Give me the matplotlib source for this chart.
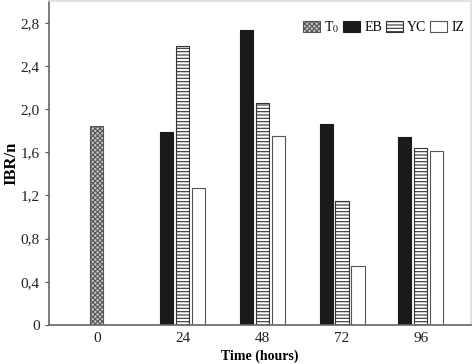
import numpy as np
import matplotlib
matplotlib.use('Agg')
from matplotlib import pyplot as plt

plt.rcParams['font.family'] = ['Liberation Serif', 'DejaVu Serif']
plt.rcParams['mathtext.fontset'] = 'stix'
plt.rcParams['hatch.linewidth'] = 0.8

# data
times = ['0', '24', '48', '72', '96']
t0 = [1.84]               # only at time 0
eb = [1.79, 2.73, 1.86, 1.745]
yc = [2.58, 2.056, 1.15, 1.637]
iz = [1.27, 1.748, 0.55, 1.61]

# group centres (the first gap is a bit wider in the original)
pos = np.array([0, 1.08, 2.08, 3.08, 4.07])
w = 0.165
step = 0.2

fig = plt.figure(figsize=(4.74, 3.64), dpi=100)
ax = fig.add_axes([0.1034, 0.107, 0.8903, 0.89])

ax.bar(pos[:1], t0, w, color='#c8c8c8', edgecolor='#555555', hatch='xxxxxxx', lw=0.8, label='T$_0$')
ax.bar(pos[1:] - step, eb, w, color='#1a1a1a', edgecolor='#1a1a1a', lw=0.8, label='EB')
ax.bar(pos[1:], yc, w, color='white', edgecolor='#333333', hatch='-----', lw=0.8, label='YC')
ax.bar(pos[1:] + step, iz, w, color='white', edgecolor='#555555', lw=0.8, label='IZ')

ax.set_xlim(-0.6, 4.7)
ax.set_ylim(0, 3.0)
ax.set_xticks(pos)
ax.set_xticklabels(times)
yt = np.arange(0, 2.81, 0.4)
ax.set_yticks(yt)
ax.set_yticklabels(['0'] + [('%.1f' % v).replace('.', ',') for v in yt[1:]])
ax.tick_params(axis='both', labelsize=11, length=3, color='#555555', labelcolor='#222222')
ax.tick_params(axis='x', length=0, pad=5)

for s in ['left', 'bottom']:
    ax.spines[s].set_color('#666666')
    ax.spines[s].set_linewidth(1.2)
for s in ['top', 'right']:
    ax.spines[s].set_color('#dddddd')
    ax.spines[s].set_linewidth(1.2)

ax.set_xlabel('Time (hours)', fontsize=10, fontweight='bold', labelpad=3)
ax.set_ylabel('IBR/n', fontsize=12, fontweight='bold')
ax.yaxis.set_label_coords(-0.07, 0.5)

ax.legend(loc='upper right', ncol=4, frameon=False, fontsize=10,
          bbox_to_anchor=(1.0, 0.965), handlelength=1.2, handleheight=0.75,
          handletextpad=0.3, columnspacing=0.3, borderaxespad=0.1)

fig.savefig('out.png', dpi=100)
